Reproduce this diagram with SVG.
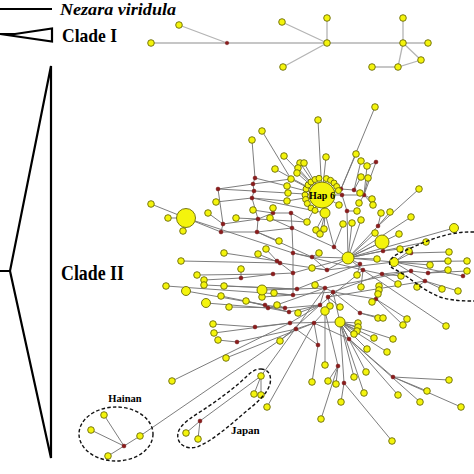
<svg xmlns="http://www.w3.org/2000/svg" width="474" height="474" viewBox="0 0 474 474">
<style>
.t{font-family:"Liberation Serif","Times New Roman",serif;font-weight:bold;fill:#000}
.y{fill:#f4f40c;stroke:#6a6a08;stroke-width:0.9}
.r{fill:#8b1c1c;stroke:#6a1010;stroke-width:0.4}
.e{fill:none;stroke:#767676;stroke-width:0.95}
.et{fill:none;stroke:#b4b4b4;stroke-width:1.3}
.tree{fill:none;stroke:#000;stroke-width:2.2;stroke-linejoin:miter}
.d{fill:none;stroke:#111;stroke-width:1.4;stroke-dasharray:3.5 2.2}
</style>
<rect width="474" height="474" fill="#fff"/>
<g id="tree">
<path class="tree" d="M0 9H52"/>
<path class="tree" d="M0 34H15L52 28.5V41.5Z"/>
<path class="tree" d="M0 271H10L51 66V458L10 271"/>
</g>
<g id="connectors">
<path class="et" d="M151 43H403M179 25L227 43M282 22L327 43M327 18V43M283 67L327 43M403 18V43M403 43H428M403 43L421 60M403 43L398 67L421 60M372 67H398"/>
<path class="e" d="M262 131L291 179M252 140L255 178M318 120L322 195M375 107L341 189M376 162L364 195M376 162L367 166M284 156L322 195M275 169L322 195M300 163L322 195M304 163L322 195M298 168L322 195M297 173L322 195M291 179L322 195M287 186L322 195M288 193L322 195M287 201L322 195M326 157L322 195M356 154L341 189M361 161L354 190M367 166L364 195M361 177L354 190M368 178L364 195M360 193L354 190M372 199L364 195M373 205L364 195M359 203L364 195M339 205L322 195M341 189L322 195M342 195L322 195M354 190L341 189M364 195L342 195M347 211L342 195M347 211L357 211M347 211L348 258M381 213L378 226M390 212L378 226M419 189L378 226L348 258M411 217L348 258M361 220L348 258M352 223L348 258M343 224L334 247M325 213L322 195M325 213L316 230M325 213L320 234M325 213L324 229M307 222L291 213M307 222L322 195M334 247L325 213M334 247L348 258M319 253L312 257M312 257L293 253M312 257L327 270M312 257L348 258M327 270L348 258M312 268L327 270"/>
<path class="e" d="M348 258L375 233M348 258L382 242M348 258L399 234M348 258L454 228M348 258L426 242M348 258L377 259M348 258L383 251M348 258L360 264M348 258L363 270M360 264L357 275M383 251L400 249M394 262L409 251M394 262L430 265M394 262L448 261M394 262L467 261M394 262L411 253L449 252M394 262L348 258M363 270L382 274L401 276M382 274L398 284M382 274L411 271L428 273L448 270M428 273L467 271M394 262L463 276M394 262L425 281L417 287M425 281L442 289M425 281L458 291M446 326L363 270M361 287L363 270M376 299L379 286M376 299L379 290M376 299L378 294M376 299L372 302M376 299L403 325M376 299L407 319M376 299L333 292M360 313L333 292M360 313L378 318M360 313L383 318"/>
<path class="e" d="M340 322L358 323M340 322L358 327M340 322L357 331M340 322L354 334M340 322L374 338M340 322L393 339M340 322L367 349M340 322L387 352M340 322L349 339M340 322L354 377M340 322L366 372M340 322L364 393M340 322L333 292M349 339L393 377L449 380M393 377L427 391M393 377L461 407M349 339L398 395M349 339L420 402M325 311L320 305M325 311L325 365M314 323L318 345L312 382M325 311L338 366L328 381M338 366L336 384M338 366L321 419M340 322L344 383L392 441M344 383L341 402M298 313L320 305M340 307L328 297M330 306L328 297M315 285L325 288L333 292M328 297L333 292M325 288L320 305"/>
<path class="e" d="M151 204L186 218M168 218L186 218M183 231L186 218M186 218L221 232M186 218L293 253M218 189L253 184M218 189L254 191M218 189L223 224M216 202L252 198M208 213L223 224M255 178L253 184L254 191L252 198L258 219L257 232M255 178L287 186M253 184L291 179M254 191L288 193M252 198L287 201M253 210L273 213M273 208L273 213M273 213L258 219M273 213L291 213L292 228M236 218L258 219M270 218L292 228M223 224L258 219M223 224L221 232L257 232L292 228L293 253L293 273M279 241L257 232M266 249L277 261M224 253L277 261M258 254L280 263M181 261L280 263M277 261L280 263L293 273M241 269L241 278L273 274L293 273M197 275L273 274M204 280L241 278M204 285L297 289M166 286L293 295M224 286L297 289M262 290L297 289M262 297L293 295M274 293L293 295M293 273L293 295M297 289L325 288M293 295L333 292"/>
<path class="e" d="M186 291L265 305M206 303L268 308M221 296L265 305M246 301L289 312M229 307L285 308M277 305L285 308M265 305L285 308M268 308L289 312M285 308L320 305M289 312L320 305M213 324L255 327L290 323M214 333L290 323M218 340L237 342L296 329M226 358L314 323M172 381L290 323M140 436L296 329M280 341L320 305M290 323L320 305M296 329L314 323L325 311M261 376L325 288M267 407L314 323M261 376L200 421L186 433M200 421L198 439M261 376L254 394M261 376L261 395M124 446L104 415M124 446L91 430M124 446L108 456M124 446L140 436"/>
<path class="e" d="M293 273L348 258M327 270L394 262M333 292L382 274M325 288L411 271M297 289L360 264M252 198L325 213M258 219L307 222M292 228L334 247M293 253L363 270M320 305L363 270M328 297L425 281M314 323L349 339M290 323L340 322M296 329L318 345M268 308L325 288M257 232L312 257M280 263L327 270"/>
</g>
<g id="clade1-nodes">
<g id="a1"><circle class="y" cx="151" cy="43" r="3.3"/></g>
<g id="a2"><circle class="y" cx="179" cy="25" r="3.3"/></g>
<g id="a3"><circle class="r" cx="227" cy="43" r="1.8"/></g>
<g id="a4"><circle class="y" cx="327" cy="43" r="3.3"/></g>
<g id="a5"><circle class="y" cx="282" cy="22" r="3.3"/></g>
<g id="a6"><circle class="y" cx="327" cy="18" r="3.3"/></g>
<g id="a7"><circle class="y" cx="283" cy="67" r="3.3"/></g>
<g id="a8"><circle class="y" cx="403" cy="43" r="3.3"/></g>
<g id="a9"><circle class="y" cx="403" cy="18" r="3.3"/></g>
<g id="a10"><circle class="y" cx="428" cy="43" r="3.3"/></g>
<g id="a11"><circle class="y" cx="421" cy="60" r="3.3"/></g>
<g id="a12"><circle class="y" cx="398" cy="67" r="3.3"/></g>
<g id="a13"><circle class="y" cx="372" cy="67" r="3.3"/></g>
</g>
<g id="red-nodes">
<g id="r1"><circle class="r" cx="255" cy="178" r="2"/></g>
<g id="r2"><circle class="r" cx="253" cy="184" r="2"/></g>
<g id="r3"><circle class="r" cx="218" cy="189" r="2"/></g>
<g id="r4"><circle class="r" cx="254" cy="191" r="2"/></g>
<g id="r5"><circle class="r" cx="252" cy="198" r="2"/></g>
<g id="r6"><circle class="r" cx="273" cy="213" r="2"/></g>
<g id="r7"><circle class="r" cx="291" cy="213" r="2"/></g>
<g id="r8"><circle class="r" cx="258" cy="219" r="2"/></g>
<g id="r9"><circle class="r" cx="223" cy="224" r="2"/></g>
<g id="r10"><circle class="r" cx="221" cy="232" r="2"/></g>
<g id="r11"><circle class="r" cx="257" cy="232" r="2"/></g>
<g id="r12"><circle class="r" cx="292" cy="228" r="2"/></g>
<g id="r13"><circle class="r" cx="293" cy="253" r="2"/></g>
<g id="r14"><circle class="r" cx="277" cy="261" r="2"/></g>
<g id="r15"><circle class="r" cx="280" cy="263" r="2"/></g>
<g id="r16"><circle class="r" cx="293" cy="273" r="2"/></g>
<g id="r17"><circle class="r" cx="273" cy="274" r="2"/></g>
<g id="r18"><circle class="r" cx="241" cy="278" r="2"/></g>
<g id="r19"><circle class="r" cx="297" cy="289" r="2"/></g>
<g id="r20"><circle class="r" cx="293" cy="295" r="2"/></g>
<g id="r21"><circle class="r" cx="265" cy="305" r="2"/></g>
<g id="r22"><circle class="r" cx="268" cy="308" r="2"/></g>
<g id="r23"><circle class="r" cx="285" cy="308" r="2"/></g>
<g id="r24"><circle class="r" cx="289" cy="312" r="2"/></g>
<g id="r25"><circle class="r" cx="290" cy="323" r="2"/></g>
<g id="r26"><circle class="r" cx="296" cy="329" r="2"/></g>
<g id="r27"><circle class="r" cx="255" cy="327" r="2"/></g>
<g id="r28"><circle class="r" cx="237" cy="342" r="2"/></g>
<g id="r29"><circle class="r" cx="314" cy="323" r="2"/></g>
<g id="r30"><circle class="r" cx="318" cy="345" r="2"/></g>
<g id="r31"><circle class="r" cx="320" cy="305" r="2"/></g>
<g id="r32"><circle class="r" cx="325" cy="288" r="2"/></g>
<g id="r33"><circle class="r" cx="328" cy="297" r="2"/></g>
<g id="r34"><circle class="r" cx="333" cy="292" r="2"/></g>
<g id="r35"><circle class="r" cx="312" cy="257" r="2"/></g>
<g id="r36"><circle class="r" cx="327" cy="270" r="2"/></g>
<g id="r37"><circle class="r" cx="334" cy="247" r="2"/></g>
<g id="r38"><circle class="r" cx="376" cy="162" r="2"/></g>
<g id="r39"><circle class="r" cx="341" cy="189" r="2"/></g>
<g id="r40"><circle class="r" cx="354" cy="190" r="2"/></g>
<g id="r41"><circle class="r" cx="364" cy="195" r="2"/></g>
<g id="r42"><circle class="r" cx="347" cy="211" r="2"/></g>
<g id="r43"><circle class="r" cx="378" cy="226" r="2"/></g>
<g id="r44"><circle class="r" cx="383" cy="251" r="2"/></g>
<g id="r45"><circle class="r" cx="411" cy="253" r="2"/></g>
<g id="r46"><circle class="r" cx="360" cy="264" r="2"/></g>
<g id="r47"><circle class="r" cx="363" cy="270" r="2"/></g>
<g id="r49"><circle class="r" cx="382" cy="274" r="2"/></g>
<g id="r50"><circle class="r" cx="411" cy="271" r="2"/></g>
<g id="r51"><circle class="r" cx="428" cy="273" r="2"/></g>
<g id="r52"><circle class="r" cx="463" cy="276" r="2"/></g>
<g id="r53"><circle class="r" cx="425" cy="281" r="2"/></g>
<g id="r55"><circle class="r" cx="376" cy="299" r="2"/></g>
<g id="r56"><circle class="r" cx="360" cy="313" r="2"/></g>
<g id="r57"><circle class="r" cx="349" cy="339" r="2"/></g>
<g id="r58"><circle class="r" cx="338" cy="366" r="2"/></g>
<g id="r59"><circle class="r" cx="344" cy="383" r="2"/></g>
<g id="r60"><circle class="r" cx="393" cy="377" r="2"/></g>
<g id="r61"><circle class="r" cx="342" cy="195" r="2"/></g>
<g id="jr"><circle class="r" cx="200" cy="421" r="2"/></g>
<g id="hr"><circle class="r" cx="124" cy="446" r="2"/></g>
</g>
<g id="yellow-nodes">
<g id="y1"><circle class="y" cx="262" cy="131" r="3.3"/></g>
<g id="y2"><circle class="y" cx="252" cy="140" r="3.3"/></g>
<g id="y3"><circle class="y" cx="318" cy="120" r="3.3"/></g>
<g id="y4"><circle class="y" cx="375" cy="107" r="3.3"/></g>
<g id="y5"><circle class="y" cx="284" cy="156" r="3.3"/></g>
<g id="y6"><circle class="y" cx="275" cy="169" r="3.3"/></g>
<g id="y7"><circle class="y" cx="300" cy="163" r="3.3"/></g>
<g id="y8"><circle class="y" cx="304" cy="163" r="3.3"/></g>
<g id="y9"><circle class="y" cx="298" cy="168" r="3.3"/></g>
<g id="y10"><circle class="y" cx="297" cy="173" r="3.3"/></g>
<g id="y11"><circle class="y" cx="291" cy="179" r="3.3"/></g>
<g id="y12"><circle class="y" cx="287" cy="186" r="3.3"/></g>
<g id="y13"><circle class="y" cx="288" cy="193" r="3.3"/></g>
<g id="y14"><circle class="y" cx="287" cy="201" r="3.3"/></g>
<g id="y15"><circle class="y" cx="326" cy="157" r="3.3"/></g>
<g id="y16"><circle class="y" cx="356" cy="154" r="3.3"/></g>
<g id="y17"><circle class="y" cx="361" cy="161" r="3.3"/></g>
<g id="y18"><circle class="y" cx="367" cy="166" r="3.3"/></g>
<g id="y19"><circle class="y" cx="368" cy="178" r="3.3"/></g>
<g id="y20"><circle class="y" cx="361" cy="177" r="3.3"/></g>
<g id="y21"><circle class="y" cx="360" cy="193" r="3.3"/></g>
<g id="y22"><circle class="y" cx="372" cy="199" r="3.3"/></g>
<g id="y23"><circle class="y" cx="373" cy="205" r="3.3"/></g>
<g id="y24"><circle class="y" cx="359" cy="203" r="3.3"/></g>
<g id="y25"><circle class="y" cx="339" cy="205" r="3.3"/></g>
<g id="y26"><circle class="y" cx="357" cy="211" r="3.3"/></g>
<g id="y27"><circle class="y" cx="381" cy="213" r="3.3"/></g>
<g id="y28"><circle class="y" cx="390" cy="212" r="3.3"/></g>
<g id="y29"><circle class="y" cx="419" cy="189" r="3.3"/></g>
<g id="y30"><circle class="y" cx="411" cy="217" r="3.3"/></g>
<g id="y31"><circle class="y" cx="361" cy="220" r="3.3"/></g>
<g id="y32"><circle class="y" cx="352" cy="223" r="3.3"/></g>
<g id="y33"><circle class="y" cx="343" cy="224" r="3.3"/></g>
<g id="y34"><circle class="y" cx="307" cy="222" r="3.3"/></g>
<g id="y35"><circle class="y" cx="316" cy="230" r="3.3"/></g>
<g id="y36"><circle class="y" cx="320" cy="234" r="3.3"/></g>
<g id="y37"><circle class="y" cx="324" cy="229" r="3.3"/></g>
<g id="y38"><circle class="y" cx="375" cy="233" r="3.3"/></g>
<g id="y39"><circle class="y" cx="399" cy="234" r="3.3"/></g>
<g id="y40"><circle class="y" cx="426" cy="242" r="3.3"/></g>
<g id="y41"><circle class="y" cx="400" cy="249" r="3.3"/></g>
<g id="y42"><circle class="y" cx="409" cy="251" r="3.3"/></g>
<g id="y43"><circle class="y" cx="449" cy="252" r="3.3"/></g>
<g id="y44"><circle class="y" cx="377" cy="259" r="3.3"/></g>
<g id="y45"><circle class="y" cx="319" cy="253" r="3.3"/></g>
<g id="y46"><circle class="y" cx="430" cy="265" r="3.3"/></g>
<g id="y47"><circle class="y" cx="448" cy="261" r="3.3"/></g>
<g id="y48"><circle class="y" cx="467" cy="261" r="3.3"/></g>
<g id="y49"><circle class="y" cx="448" cy="270" r="3.3"/></g>
<g id="y50"><circle class="y" cx="467" cy="271" r="3.3"/></g>
<g id="y51"><circle class="y" cx="312" cy="268" r="3.3"/></g>
<g id="y52"><circle class="y" cx="357" cy="275" r="3.3"/></g>
<g id="y53"><circle class="y" cx="401" cy="276" r="3.3"/></g>
<g id="y54"><circle class="y" cx="398" cy="284" r="3.3"/></g>
<g id="y55"><circle class="y" cx="417" cy="287" r="3.3"/></g>
<g id="y56"><circle class="y" cx="442" cy="289" r="3.3"/></g>
<g id="y57"><circle class="y" cx="458" cy="291" r="3.3"/></g>
<g id="y58"><circle class="y" cx="315" cy="285" r="3.3"/></g>
<g id="y59"><circle class="y" cx="361" cy="287" r="3.3"/></g>
<g id="y60"><circle class="y" cx="379" cy="286" r="3.3"/></g>
<g id="y61"><circle class="y" cx="379" cy="290" r="3.3"/></g>
<g id="y62"><circle class="y" cx="378" cy="294" r="3.3"/></g>
<g id="y63"><circle class="y" cx="372" cy="302" r="3.3"/></g>
<g id="y64"><circle class="y" cx="340" cy="307" r="3.3"/></g>
<g id="y65"><circle class="y" cx="330" cy="306" r="3.3"/></g>
<g id="y66"><circle class="y" cx="151" cy="204" r="3.3"/></g>
<g id="y67"><circle class="y" cx="216" cy="202" r="3.3"/></g>
<g id="y68"><circle class="y" cx="168" cy="218" r="3.3"/></g>
<g id="y69"><circle class="y" cx="208" cy="213" r="3.3"/></g>
<g id="y70"><circle class="y" cx="183" cy="231" r="3.3"/></g>
<g id="y71"><circle class="y" cx="236" cy="218" r="3.3"/></g>
<g id="y72"><circle class="y" cx="253" cy="210" r="3.3"/></g>
<g id="y73"><circle class="y" cx="273" cy="208" r="3.3"/></g>
<g id="y74"><circle class="y" cx="270" cy="218" r="3.3"/></g>
<g id="y75"><circle class="y" cx="279" cy="241" r="3.3"/></g>
<g id="y76"><circle class="y" cx="266" cy="249" r="3.3"/></g>
<g id="y77"><circle class="y" cx="224" cy="253" r="3.3"/></g>
<g id="y78"><circle class="y" cx="258" cy="254" r="3.3"/></g>
<g id="y79"><circle class="y" cx="181" cy="261" r="3.3"/></g>
<g id="y80"><circle class="y" cx="241" cy="269" r="3.3"/></g>
<g id="y81"><circle class="y" cx="197" cy="275" r="3.3"/></g>
<g id="y82"><circle class="y" cx="204" cy="280" r="3.3"/></g>
<g id="y83"><circle class="y" cx="204" cy="285" r="3.3"/></g>
<g id="y84"><circle class="y" cx="166" cy="286" r="3.3"/></g>
<g id="y85"><circle class="y" cx="224" cy="286" r="3.3"/></g>
<g id="y86"><circle class="y" cx="262" cy="297" r="3.3"/></g>
<g id="y87"><circle class="y" cx="274" cy="293" r="3.3"/></g>
<g id="y88"><circle class="y" cx="221" cy="296" r="3.3"/></g>
<g id="y89"><circle class="y" cx="246" cy="301" r="3.3"/></g>
<g id="y90"><circle class="y" cx="229" cy="307" r="3.3"/></g>
<g id="y91"><circle class="y" cx="277" cy="305" r="3.3"/></g>
<g id="y92"><circle class="y" cx="298" cy="313" r="3.3"/></g>
<g id="y93"><circle class="y" cx="213" cy="324" r="3.3"/></g>
<g id="y94"><circle class="y" cx="214" cy="333" r="3.3"/></g>
<g id="y95"><circle class="y" cx="218" cy="340" r="3.3"/></g>
<g id="y96"><circle class="y" cx="280" cy="341" r="3.3"/></g>
<g id="y97"><circle class="y" cx="226" cy="358" r="3.3"/></g>
<g id="y98"><circle class="y" cx="172" cy="381" r="3.3"/></g>
<g id="y99"><circle class="y" cx="358" cy="323" r="3.3"/></g>
<g id="y100"><circle class="y" cx="358" cy="327" r="3.3"/></g>
<g id="y101"><circle class="y" cx="357" cy="331" r="3.3"/></g>
<g id="y102"><circle class="y" cx="354" cy="334" r="3.3"/></g>
<g id="y103"><circle class="y" cx="378" cy="318" r="3.3"/></g>
<g id="y104"><circle class="y" cx="383" cy="318" r="3.3"/></g>
<g id="y105"><circle class="y" cx="403" cy="325" r="3.3"/></g>
<g id="y106"><circle class="y" cx="407" cy="319" r="3.3"/></g>
<g id="y107"><circle class="y" cx="446" cy="326" r="3.3"/></g>
<g id="y108"><circle class="y" cx="374" cy="338" r="3.3"/></g>
<g id="y109"><circle class="y" cx="393" cy="339" r="3.3"/></g>
<g id="y110"><circle class="y" cx="367" cy="349" r="3.3"/></g>
<g id="y111"><circle class="y" cx="387" cy="352" r="3.3"/></g>
<g id="y112"><circle class="y" cx="325" cy="365" r="3.3"/></g>
<g id="y113"><circle class="y" cx="366" cy="372" r="3.3"/></g>
<g id="y114"><circle class="y" cx="312" cy="382" r="3.3"/></g>
<g id="y115"><circle class="y" cx="328" cy="381" r="3.3"/></g>
<g id="y116"><circle class="y" cx="336" cy="384" r="3.3"/></g>
<g id="y117"><circle class="y" cx="354" cy="377" r="3.3"/></g>
<g id="y118"><circle class="y" cx="449" cy="380" r="3.3"/></g>
<g id="y119"><circle class="y" cx="427" cy="391" r="3.3"/></g>
<g id="y120"><circle class="y" cx="364" cy="393" r="3.3"/></g>
<g id="y121"><circle class="y" cx="398" cy="395" r="3.3"/></g>
<g id="y122"><circle class="y" cx="420" cy="402" r="3.3"/></g>
<g id="y123"><circle class="y" cx="341" cy="402" r="3.3"/></g>
<g id="y124"><circle class="y" cx="461" cy="407" r="3.3"/></g>
<g id="y125"><circle class="y" cx="321" cy="419" r="3.3"/></g>
<g id="y126"><circle class="y" cx="392" cy="441" r="3.3"/></g>
<g id="j1"><circle class="y" cx="261" cy="376" r="3.3"/></g>
<g id="j2"><circle class="y" cx="254" cy="394" r="3.3"/></g>
<g id="j3"><circle class="y" cx="261" cy="395" r="3.3"/></g>
<g id="j4"><circle class="y" cx="267" cy="407" r="3.3"/></g>
<g id="j5"><circle class="y" cx="186" cy="433" r="3.3"/></g>
<g id="j6"><circle class="y" cx="198" cy="439" r="3.3"/></g>
<g id="h1"><circle class="y" cx="104" cy="415" r="3.3"/></g>
<g id="h2"><circle class="y" cx="91" cy="430" r="3.3"/></g>
<g id="h3"><circle class="y" cx="140" cy="436" r="3.3"/></g>
<g id="h4"><circle class="y" cx="108" cy="456" r="3.3"/></g>
<g id="B1"><circle class="y" cx="186" cy="218" r="9.5"/></g>
<g id="B2"><circle class="y" cx="382" cy="242" r="7"/></g>
<g id="B3"><circle class="y" cx="348" cy="258" r="6"/></g>
<g id="B4"><circle class="y" cx="394" cy="262" r="4.5"/></g>
<g id="B5"><circle class="y" cx="454" cy="228" r="4.5"/></g>
<g id="B6"><circle class="y" cx="262" cy="290" r="5"/></g>
<g id="B7"><circle class="y" cx="186" cy="291" r="4.5"/></g>
<g id="B8"><circle class="y" cx="206" cy="303" r="4.5"/></g>
<g id="B9"><circle class="y" cx="340" cy="322" r="5"/></g>
<g id="B10"><circle class="y" cx="325" cy="311" r="4.2"/></g>
<g id="B11"><circle class="y" cx="325" cy="213" r="5"/></g>
<g id="q1"><circle class="y" cx="306" cy="189" r="3"/></g>
<g id="q2"><circle class="y" cx="308" cy="185" r="3"/></g>
<g id="q3"><circle class="y" cx="311" cy="182" r="3"/></g>
<g id="q4"><circle class="y" cx="315" cy="179.5" r="3"/></g>
<g id="q5"><circle class="y" cx="319" cy="178.3" r="3"/></g>
<g id="q6"><circle class="y" cx="326.4" cy="178.6" r="3"/></g>
<g id="q7"><circle class="y" cx="330.5" cy="180.3" r="3"/></g>
<g id="q8"><circle class="y" cx="334" cy="183" r="3"/></g>
<g id="q9"><circle class="y" cx="336.7" cy="186.5" r="3"/></g>
<g id="q10"><circle class="y" cx="338.4" cy="190.6" r="3"/></g>
<g id="q11"><circle class="y" cx="305" cy="195" r="3"/></g>
<g id="q12"><circle class="y" cx="305.6" cy="199.4" r="3"/></g>
<g id="q13"><circle class="y" cx="307.3" cy="203.5" r="3"/></g>
<g id="q14"><circle class="y" cx="311" cy="208" r="3"/></g>
<g id="q15"><circle class="y" cx="315" cy="210.4" r="3"/></g>
<g id="H6"><circle class="y" cx="322" cy="195" r="13"/><text class="t" x="322" y="198.5" font-size="10" text-anchor="middle">Hap 6</text></g>
</g>
<g id="regions">
<path class="d" d="M474 232C445 231 420 244 400 253C388 258 386 266 396 270C410 277 420 289 440 297C452 301 465 301 474 301"/>
<ellipse class="d" cx="116" cy="434" rx="37" ry="27"/>
<path class="d" d="M261 369C268 369 272 375 270 384C267 395 255 404 243 414C228 427 212 441 197 447C186 450 176 444 178 433C180 423 196 415 212 404C226 394 238 385 247 376C252 371 256 369 261 369Z"/>
</g>
<g id="labels">
<text class="t" x="60" y="15" font-size="16.5" font-style="italic" textLength="116" lengthAdjust="spacingAndGlyphs">Nezara viridula</text>
<text class="t" x="62" y="42" font-size="19.5" textLength="55" lengthAdjust="spacingAndGlyphs">Clade I</text>
<text class="t" x="61" y="280" font-size="20" textLength="63" lengthAdjust="spacingAndGlyphs">Clade II</text>
<text class="t" x="125" y="402" font-size="10.5" text-anchor="middle">Hainan</text>
<text class="t" x="231" y="434" font-size="11">Japan</text>
</g>
</svg>
